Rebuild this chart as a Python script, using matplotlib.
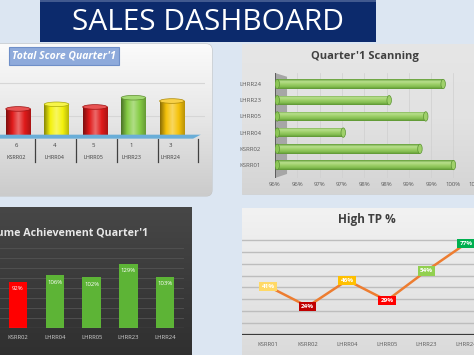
import numpy as np
import matplotlib
matplotlib.use("Agg")
import matplotlib.pyplot as plt
from matplotlib.patches import FancyBboxPatch, Rectangle, Ellipse, Polygon
from matplotlib.colors import LinearSegmentedColormap, to_rgb

# ---- data ----
score_cats = ["KSRR02", "LHRR04", "LHRR05", "LHRR23", "LHRR24"]
score_vals = [41, 48, 44, 58, 53]
score_rank = [6, 4, 5, 1, 3]
score_colors = ["#e01a1a", "#f4f20c", "#e01a1a", "#86cc45", "#f5c20a"]

scan_cats = ["KSRR01", "KSRR02", "LHRR04", "LHRR05", "LHRR23", "LHRR24"]
scan_vals = [99.50, 98.75, 97.03, 98.88, 98.06, 99.27]
scan_ticks = [95.5, 96.0, 96.5, 97.0, 97.5, 98.0, 98.5, 99.0, 99.5, 100.0]
scan_ticklabels = ["96%", "96%", "97%", "97%", "98%", "98%", "99%", "99%", "100%", "100%"]

vol_cats = ["KSRR02", "LHRR04", "LHRR05", "LHRR23", "LHRR24"]
vol_vals = [92, 106, 102, 129, 103]
vol_colors = ["#ff0000", "#5db436", "#5db436", "#5db436", "#5db436"]

tp_cats = ["KSRR01", "KSRR02", "LHRR04", "LHRR05", "LHRR23", "LHRR24"]
tp_vals = [41, 24, 46, 29, 54, 77]
tp_colors = ["#ffd966", "#c00000", "#ffc000", "#ff0000", "#92d050", "#00b050"]

W, H = 474, 355
plt.rcParams['font.family'] = ['Open Sans', 'DejaVu Sans']
fig = plt.figure(figsize=(W / 100, H / 100), dpi=100)
fig.patch.set_facecolor("#dce6f2")


def px_axes(x, y, w, h):
    ax = fig.add_axes([x / W, 1 - (y + h) / H, w / W, h / H])
    ax.patch.set_alpha(0)
    return ax


def mix(c, other, t):
    a, b = np.array(to_rgb(c)), np.array(to_rgb(other))
    return tuple(a * (1 - t) + b * t)


def grad_patch(ax, patch, colors, vertical=True, extent=None):
    ax.add_patch(patch)
    cmap = LinearSegmentedColormap.from_list("g", colors)
    if vertical:
        img = np.linspace(0, 1, 256).reshape(-1, 1)
    else:
        img = np.linspace(0, 1, 256).reshape(1, -1)
    im = ax.imshow(img, cmap=cmap, extent=extent, aspect="auto",
                   interpolation="bilinear", zorder=patch.get_zorder())
    im.set_clip_path(patch)
    return im


# ---- background, header and panels ----
bg = fig.add_axes([0, 0, 1, 1])
bg.axis("off")

bg.add_patch(Rectangle((40, 0), 336, 42, fc="#0c2a6c", ec="none"))
bg.add_patch(Rectangle((40, 0), 336, 2, fc="#41598f", ec="none"))
bg.text(208, 22, "SALES DASHBOARD", color="white", fontsize=21.5,
        ha="center", va="center")

p1 = FancyBboxPatch((-10, 44), 222, 152, boxstyle="round,pad=0,rounding_size=6",
                    fc="none", ec="#c4c4c4", lw=0.8)
grad_patch(bg, p1, ["#fbfbfb", "#e6e6e6", "#cbcbcb"], extent=(-10, 212, 196, 44))
p2 = Rectangle((242, 44), 240, 150, fc="none", ec="#d0d0d0", lw=0.6)
grad_patch(bg, p2, ["#e6e6e6", "#e2e2e2", "#d4d4d4"], extent=(242, 482, 194, 44))
p3 = Rectangle((-10, 207), 202, 160, fc="none", ec="none")
grad_patch(bg, p3, ["#474747", "#3a3a3a", "#2e2e2e"], extent=(-10, 192, 367, 207))
p4 = Rectangle((242, 208), 240, 160, fc="none", ec="#d0d0d0", lw=0.6)
grad_patch(bg, p4, ["#f2f2f2", "#e6e6e6", "#d8d8d8"], extent=(242, 482, 368, 208))

# titles
bg.text(12, 56, "Total Score Quarter'1", color="white", fontsize=7.5,
        fontweight="bold", style="italic", va="center", ha="left",
        bbox=dict(boxstyle="square,pad=0.3", fc="#8eaadb", ec="#6f8fc8", lw=0.8))
bg.text(365, 57, "Quarter'1 Scanning", color="#404040", fontsize=8,
        fontweight="bold", ha="center", va="center")
bg.text(64, 233, "Volume Achievement Quarter'1", color="#e8e8e8", fontsize=7.7,
        fontweight="bold", ha="center", va="center")
bg.text(367, 220, "High TP %", color="#404040", fontsize=8.5,
        fontweight="bold", ha="center", va="center")
bg.set_xlim(0, W)
bg.set_ylim(H, 0)

# ---- chart 1: Total Score (cylinders) ----
ax1 = px_axes(0, 70, 205, 66)
ax1.axis("off")
for gy in [30, 80]:
    ax1.axhline(gy, color="#d6d6d6", lw=0.8, zorder=0)
bw = 0.64
for i, (v, c) in enumerate(zip(score_vals, score_colors)):
    rect = Rectangle((i - bw / 2, 0), bw, v, fc="none", ec="none", zorder=2)
    grad_patch(ax1, rect, [mix(c, "black", 0.45), c, mix(c, "white", 0.35), c,
                           mix(c, "black", 0.25)],
               vertical=False, extent=(i - bw / 2, i + bw / 2, 0, v))
    ax1.add_patch(Ellipse((i, v), bw, 7, fc=mix(c, "white", 0.25),
                          ec=mix(c, "black", 0.3), lw=0.5, zorder=3))
# floor
ax1.add_patch(Polygon([(-0.6, -4), (4.55, -4), (4.75, 2), (-0.6, 2)], closed=True,
                      fc="#6aaed8", ec="none", zorder=4, clip_on=False))
tr = ax1.get_xaxis_transform()
for i in range(len(score_cats)):
    ax1.plot([i + 0.45 + 0.06 * i] * 2, [-0.05, -0.4], transform=tr, color="#404040",
             lw=0.9, clip_on=False)
    ax1.text(i - 0.05, -0.14, str(score_rank[i]), transform=tr, ha="center", va="center",
             fontsize=4.3, color="#404040")
    ax1.text(i - 0.05, -0.33, score_cats[i], transform=tr, ha="center", va="center",
             fontsize=4.0, color="#404040")
ax1.set_xlim(-0.47, 4.86)
ax1.set_ylim(0, 100)

# ---- chart 2: Quarter'1 Scanning (horizontal cylinders) ----
ax2 = px_axes(275, 73, 223, 105)
for s in ax2.spines.values():
    s.set_visible(False)
for t in scan_ticks:
    ax2.axvline(t, color="#cfcfcf", lw=0.5, zorder=0)
ax2.add_patch(Polygon([(95.5, -0.8), (95.77, -0.55), (95.77, 5.45), (95.5, 5.68)],
                      closed=True, fc="#a6a6a6", ec="none", zorder=1))
ax2.plot([95.5, 95.5], [-0.8, 5.68], color="#505050", lw=1.2, zorder=2)
bh = 0.58
x0 = 95.55
for i, v in enumerate(scan_vals):
    rect = Rectangle((x0, i - bh / 2), v - x0, bh, fc="none", ec="none", zorder=3)
    grad_patch(ax2, rect, ["#5f9a35", "#b9e08e", "#9fd06a", "#86bf52", "#5a9432"],
               extent=(x0, v, i - bh / 2, i + bh / 2))
    ax2.add_patch(Ellipse((v, i), 0.1, bh, fc="#9fd06a", ec="#5a9432", lw=0.5, zorder=4))
    ax2.add_patch(Ellipse((x0, i), 0.1, bh, fc="#8cc656", ec="#5a9432", lw=0.5, zorder=4))
ax2.set_xticks(scan_ticks, scan_ticklabels)
ax2.set_yticks(range(len(scan_cats)), scan_cats)
ax2.tick_params(length=0, labelsize=4.3, labelcolor="#595959")
ax2.tick_params(axis="y", pad=10)
ax2.tick_params(axis="x", pad=3)
ax2.set_xlim(95.5, 100.5)
ax2.set_ylim(-0.8, 5.68)

# ---- chart 3: Volume Achievement ----
ax3 = px_axes(0, 248, 184, 80)
for s in ax3.spines.values():
    s.set_visible(False)
for gy in range(20, 161, 20):
    ax3.axhline(gy, color="#535353", lw=0.6, zorder=0)
ax3.bar(range(len(vol_cats)), vol_vals, width=0.5, color=vol_colors, zorder=2)
ax3.axhline(0, color="#b0b0b0", lw=0.8, zorder=3)
for i, v in enumerate(vol_vals):
    ax3.text(i, v - 14, f"{v}%", color="white", fontsize=4.3, ha="center", va="center")
ax3.set_xticks(range(len(vol_cats)), vol_cats)
ax3.set_yticks([])
ax3.tick_params(length=0, labelsize=4.2, labelcolor="#d0d0d0", pad=5)
ax3.set_xlim(-0.49, 4.51)
ax3.set_ylim(0, 160)

# ---- chart 4: High TP % ----
ax4 = px_axes(242, 228, 232, 107)
for s in ax4.spines.values():
    s.set_visible(False)
for gy in range(10, 81, 10):
    ax4.axhline(gy, color="#bdbdbd", lw=1.0, zorder=0)
ax4.axhline(0, color="#3a3a3a", lw=1.6, zorder=1)
ax4.plot(range(len(tp_cats)), tp_vals, color="#ed7d31", lw=1.8, zorder=2)
for i, (v, c) in enumerate(zip(tp_vals, tp_colors)):
    ax4.text(i, v, f"{v}%", color="white", fontsize=4.6, fontweight="bold",
             ha="center", va="center", zorder=3,
             bbox=dict(boxstyle="square,pad=0.35", fc=c, ec="none"))
ax4.set_xticks(range(len(tp_cats)), tp_cats)
ax4.set_yticks([])
ax4.tick_params(length=0, labelsize=4.2, labelcolor="#595959", pad=5)
ax4.set_xlim(-0.657, 5.2)
ax4.set_ylim(0, 90)

fig.savefig("out.png", dpi=100, facecolor=fig.get_facecolor())
